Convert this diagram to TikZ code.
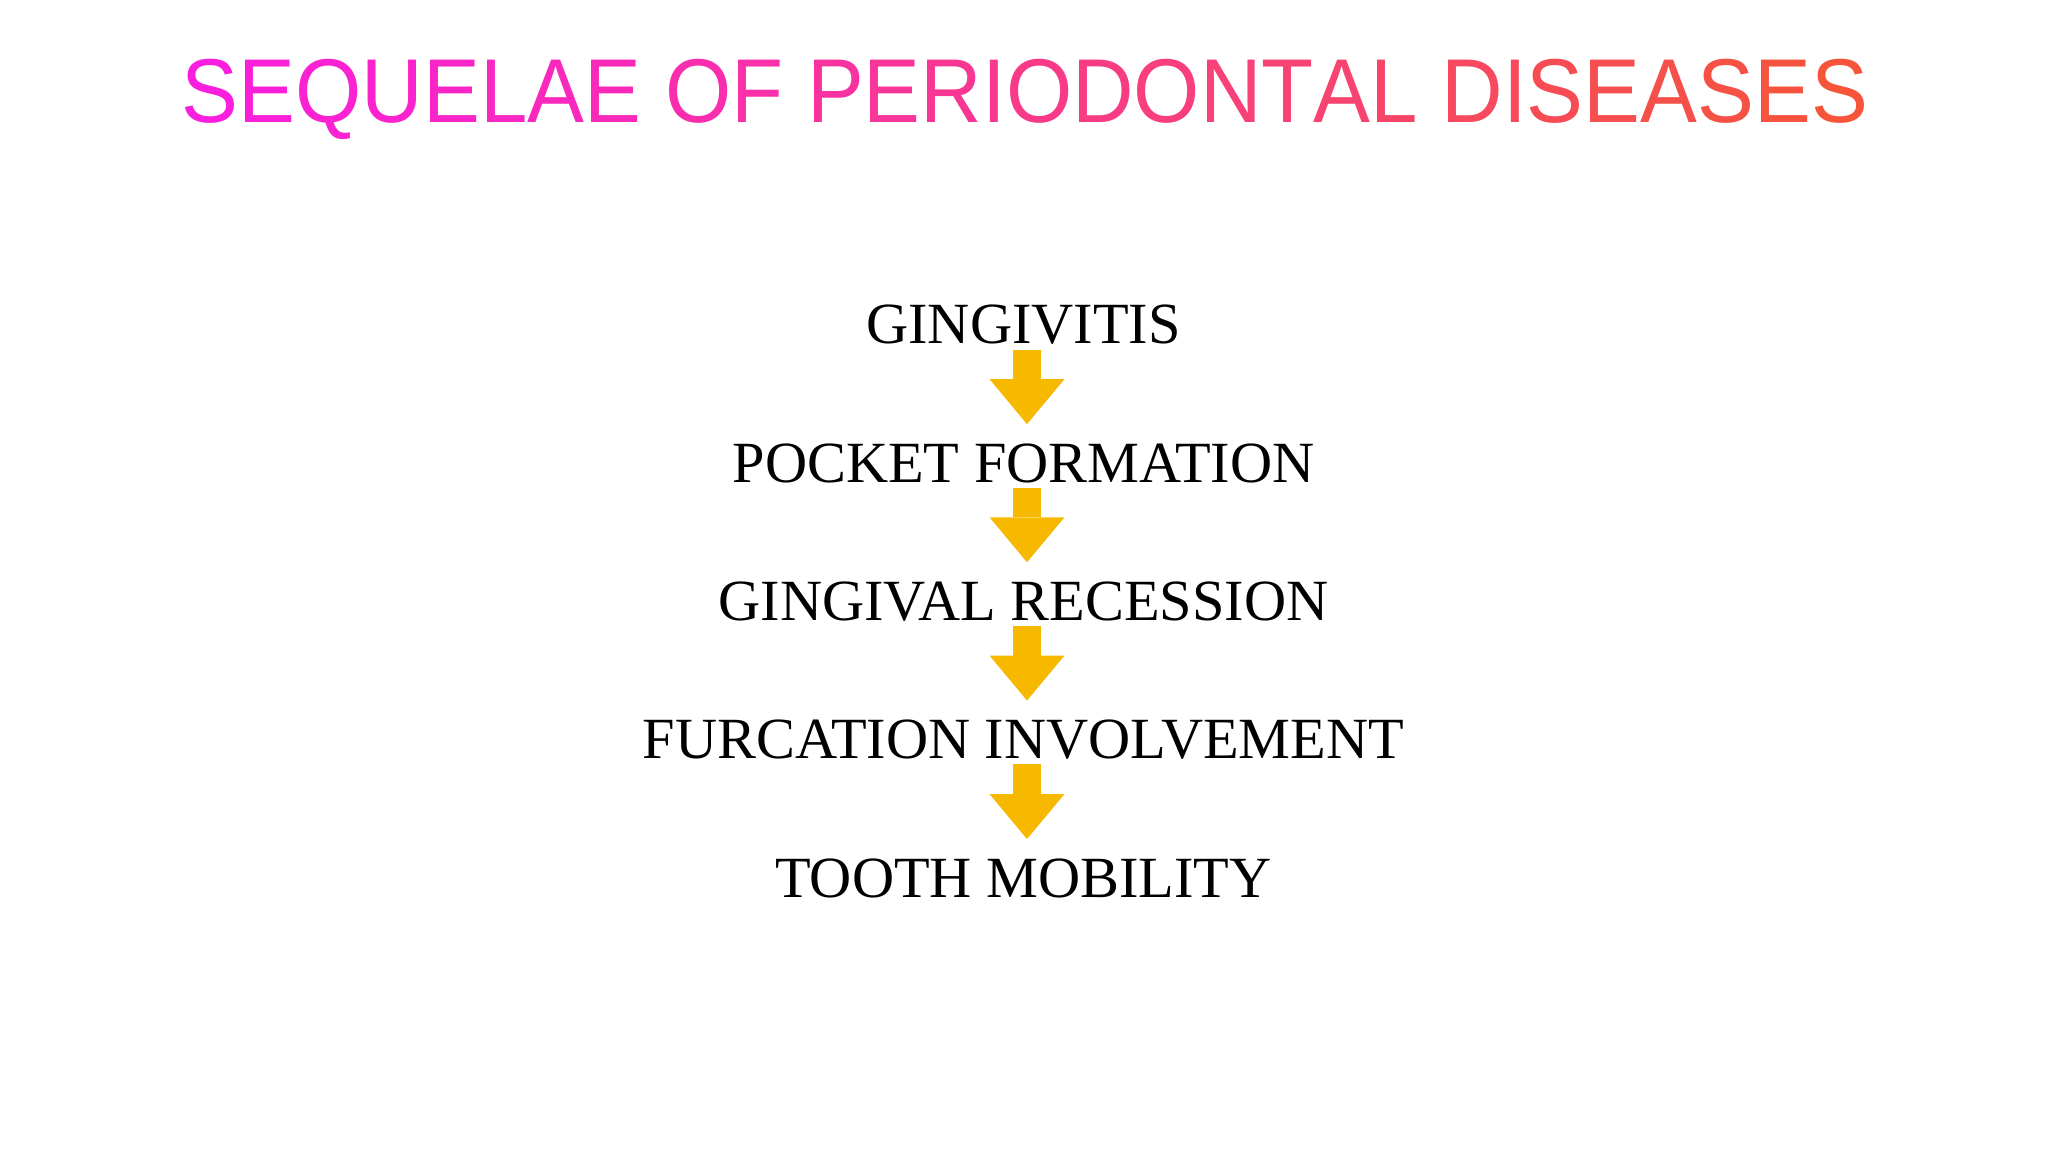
\documentclass[tikz,border=0pt]{standalone}
\usepackage{fontspec}
\setmainfont{Liberation Serif}
\newfontfamily\titlefont{Liberation Sans}
\usepackage{graphicx}
\usetikzlibrary{arrows.meta, positioning}

\definecolor{titleA}{RGB}{250,30,222}
\definecolor{titleB}{RGB}{246,85,58}
\definecolor{arrowc}{RGB}{246,185,0}

% letter by letter colour run for the heading
\newcommand{\gradtitle}{%
  \foreach \ch [count=\i from 0] in {S,E,Q,U,E,L,A,E,~,O,F,~,P,E,R,I,O,D,O,N,T,A,L,~,D,I,S,E,A,S,E,S}{%
    \pgfmathsetmacro{\mixp}{100*\i/31}%
    \textcolor{titleB!\mixp!titleA}{\ch}}}

\begin{document}
\begin{tikzpicture}[
    node distance=1.383cm,
    on grid,
    heading/.style={inner sep=0pt, anchor=base,
                    font=\titlefont\fontsize{25.8pt}{30pt}\selectfont},
    stage/.style={inner sep=0pt, font=\fontsize{16.6pt}{20pt}\selectfont},
    flow/.style={draw=arrowc, line width=2.8mm,
                 -{Triangle[width=7.5mm, length=4.5mm, line width=0pt]},
                 shorten <=0.4mm, shorten >=1.9mm}
]
\useasboundingbox (0,0) rectangle (20.48,11.52);
\fill[white] (0,0) rectangle (20.48,11.52);

% ================= Heading =================
\node[heading] (title) at (10.25,10.29) {\scalebox{0.94}[1]{\gradtitle}};

% ================= Sequence =================
\node[stage, anchor=base] (gingiv) at (10.235,8.08) {GINGIVITIS};
\node[stage, below=of gingiv] (pocket) {POCKET FORMATION};
\node[stage, below=of pocket] (recess) {GINGIVAL RECESSION};
\node[stage, below=of recess] (furc) {FURCATION INVOLVEMENT};
\node[stage, below=of furc] (mobil) {TOOTH MOBILITY};

% Arrows
\draw[flow] ([xshift=0.35mm]gingiv.south) -- ([xshift=0.35mm]pocket.north);
\draw[flow] ([xshift=0.35mm]pocket.south) -- ([xshift=0.35mm]recess.north);
\draw[flow] ([xshift=0.35mm]recess.south) -- ([xshift=0.35mm]furc.north);
\draw[flow] ([xshift=0.35mm]furc.south) -- ([xshift=0.35mm]mobil.north);

\end{tikzpicture}
\end{document}
